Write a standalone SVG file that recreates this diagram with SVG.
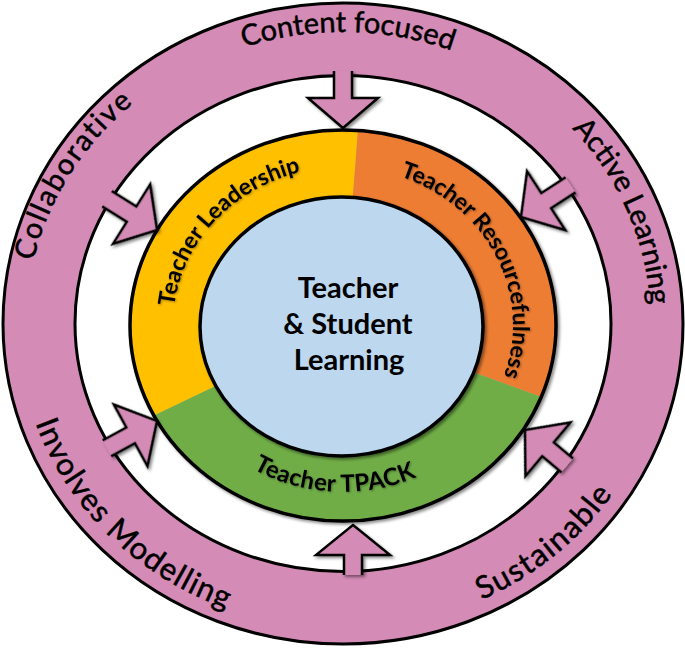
<svg xmlns="http://www.w3.org/2000/svg" width="685" height="648" viewBox="0 0 685 648">
<style>
.ring{fill:#D48BB6;stroke:#000;stroke-width:3;fill-rule:evenodd}
.outerlbl{font-family:Lato,"Open Sans","Noto Sans",sans-serif;font-size:29px;fill:#000;stroke:#000;stroke-width:0.5}
.innerlbl{font-family:Lato,"Open Sans","Noto Sans",sans-serif;font-size:23px;font-weight:bold;fill:#000}
.center{font-family:Lato,"Open Sans","Noto Sans",sans-serif;font-size:29px;font-weight:bold;fill:#000;text-anchor:middle}
.arrow{fill:#D48BB6;stroke:#000;stroke-width:2.5;stroke-linejoin:miter}
.edge{fill:none;stroke:#000;stroke-width:3.5}
</style>
<defs>
<filter id="sh" x="-30%" y="-30%" width="160%" height="160%"><feDropShadow dx="2" dy="2" stdDeviation="1.5" flood-color="#000" flood-opacity="0.45"/></filter>
<filter id="tsh" x="-10%" y="-30%" width="120%" height="160%"><feDropShadow dx="1" dy="1" stdDeviation="1.2" flood-color="#000" flood-opacity="0.35"/></filter>
<clipPath id="ringclip"><ellipse cx="343" cy="325.5" rx="213" ry="195.5"/></clipPath>
<path id="pContent" d="M79,173.6 A308,292 0 0 1 612.4,182.4"/>
<path id="pCollab" d="M68.8,471.5 A306,290 0 0 1 337.7,34"/>
<path id="pActive" d="M384.8,34.7 A308,292 0 0 1 586.4,503"/>
<path id="pSustain" d="M242.6,614.1 A325,305 0 0 0 660.9,260.6"/>
<path id="pInvolves" d="M32.2,234.8 A325,305 0 0 0 416.1,621.2"/>
<path id="pLead" d="M195.8,404 A170,158 0 0 1 401.1,176.5"/>
<path id="pRes" d="M299,172.4 A170,158 0 0 1 440.5,454.4"/>
<path id="pTpack" d="M172.8,373.8 A178,167 0 0 0 506.8,390.2"/>
</defs>

<g id="outer-ring">
<path class="ring" d="M3,323.5 A340,320.5 0 1 0 683,323.5 A340,320.5 0 1 0 3,323.5 Z M75,323.5 A268,248 0 1 0 611,323.5 A268,248 0 1 0 75,323.5 Z"/>
</g>
<g id="content-focused"><text class="outerlbl"><textPath href="#pContent" startOffset="50%" text-anchor="middle">Content focused</textPath></text></g>
<g id="collaborative"><text class="outerlbl" style="letter-spacing:1.8px"><textPath href="#pCollab" startOffset="50%" text-anchor="middle">Collaborative</textPath></text></g>
<g id="active-learning"><text class="outerlbl"><textPath href="#pActive" startOffset="50%" text-anchor="middle">Active Learning</textPath></text></g>
<g id="sustainable"><text class="outerlbl" style="font-size:31px;letter-spacing:1.5px"><textPath href="#pSustain" startOffset="50%" text-anchor="middle">Sustainable</textPath></text></g>
<g id="involves-modelling"><text class="outerlbl" style="font-size:31px;letter-spacing:1.2px"><textPath href="#pInvolves" startOffset="50%" text-anchor="middle">Involves Modelling</textPath></text></g>

<g id="teacher-ring" filter="url(#sh)">
<g clip-path="url(#ringclip)">
<polygon id="teacher-leadership-seg" points="343,325 373,-65 -100,-65 -100,537" fill="#FFC000"/>
<polygon id="teacher-resourcefulness-seg" points="343,325 373,-65 800,-65 800,491" fill="#ED7D31"/>
<polygon id="teacher-tpack-seg" points="343,325 800,491 800,800 -100,800 -100,537" fill="#70AD47"/>
</g>
<ellipse class="edge" cx="343" cy="325.5" rx="213" ry="195.5"/>
</g>
<g id="teacher-student-learning">
<ellipse cx="341.5" cy="326.5" rx="141.5" ry="129.5" fill="#BDD7EE" stroke="#000" stroke-width="3.5" filter="url(#sh)"/>
<text class="center" x="348" y="298">Teacher</text>
<text class="center" x="348" y="334">&amp; Student</text>
<text class="center" x="349" y="370">Learning</text>
</g>
<g id="teacher-leadership"><text class="innerlbl" filter="url(#tsh)"><textPath href="#pLead" startOffset="50%" text-anchor="middle">Teacher Leadership</textPath></text></g>
<g id="teacher-resourcefulness"><text class="innerlbl" filter="url(#tsh)"><textPath href="#pRes" startOffset="50%" text-anchor="middle">Teacher Resourcefulness</textPath></text></g>
<g id="teacher-tpack"><text class="innerlbl" filter="url(#tsh)" style="font-size:24px;letter-spacing:0.4px"><textPath href="#pTpack" startOffset="50%" text-anchor="middle">Teacher TPACK</textPath></text></g>

<g id="connectors" filter="url(#sh)">
<path class="arrow" transform="translate(343,128) rotate(90)" d="M-57,-9 L-30,-9 L-30,-35 L0,0 L-30,35 L-30,9 L-57,9"/>
<path class="arrow" transform="translate(157,230) rotate(32)" d="M-59,-9 L-30,-9 L-30,-35 L0,0 L-30,35 L-30,9 L-59,9"/>
<path class="arrow" transform="translate(521,217) rotate(147)" d="M-59,-9 L-30,-9 L-30,-35 L0,0 L-30,35 L-30,9 L-59,9"/>
<path class="arrow" transform="translate(157,421) rotate(-28.6)" d="M-57,-9 L-30,-9 L-30,-35 L0,0 L-30,35 L-30,9 L-57,9"/>
<path class="arrow" transform="translate(525,430) rotate(-140)" d="M-55,-9 L-30,-9 L-30,-35 L0,0 L-30,35 L-30,9 L-55,9"/>
<path class="arrow" transform="translate(353,525) rotate(-90)" d="M-50,-9 L-30,-9 L-30,-37 L0,0 L-30,37 L-30,9 L-50,9"/>
</g>
</svg>
